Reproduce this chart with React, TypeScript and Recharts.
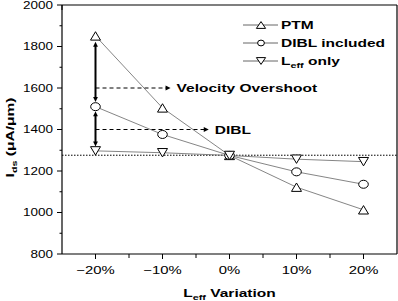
import React from 'react';
import { LineChart, Line, XAxis, YAxis, ReferenceLine, Legend } from 'recharts';

// ---------- data ----------
const xValues = [-20, -10, 0, 10, 20];
const ptm = [1851, 1504, 1275, 1122, 1013];
const diblIncluded = [1510, 1376, 1275, 1196, 1136];
const leffOnly = [1297, 1288, 1275, 1257, 1245];

const xMajorTicks = [-20, -10, 0, 10, 20];
const xAllTicks = [-20, -15, -10, -5, 0, 5, 10, 15, 20];
const yMajorTicks = [800, 1000, 1200, 1400, 1600, 1800, 2000];
const yAllTicks = [800, 900, 1000, 1100, 1200, 1300, 1400, 1500, 1600, 1700, 1800, 1900, 2000];
const xDomain = [-25, 25];
const yDomain = [800, 2000];

const referenceLevel = 1276;
const arrowX = -20;
const upperArrow = [1823, 1532];
const lowerArrow = [1488, 1318];
const velocityLevel = 1600;
const velocityArrowEnd = -8.8;
const diblLevel = 1400;
const diblArrowEnd = -3.1;

const seriesDefs = [
  { key: 'ptm', name: 'PTM', shape: 'up' },
  { key: 'dibl', name: 'DIBL included', shape: 'circle' },
  { key: 'leff', name: 'Leff only', shape: 'down' },
];

const chartData = xValues.map((x, i) => ({ x, ptm: ptm[i], dibl: diblIncluded[i], leff: leffOnly[i] }));

// ---------- helpers ----------
const S = 1.35;
const FONT = "'Liberation Sans', Arial, Helvetica, sans-serif";

function SText({ x, y, size, bold, anchor, rotate, children }: any) {
  const t = `translate(${x},${y})` + (rotate ? ` rotate(${rotate})` : '') + ` scale(${S},1)`;
  return (
    <text transform={t} x={0} y={0} fontSize={size} fontFamily={FONT} fontWeight={bold ? 700 : 400}
      textAnchor={anchor || 'start'} fill="#000">
      {children}
    </text>
  );
}

function Marker({ cx, cy, shape, small }: any) {
  if (cx == null || cy == null) return null;
  const w = small ? 4.6 : 5;
  const h = small ? 3.4 : 4.2;
  if (shape === 'circle') {
    return <ellipse cx={cx} cy={cy} rx={small ? 3.4 : 4.8} ry={small ? 2.9 : 4} fill="#fff" stroke="#000" strokeWidth={1} />;
  }
  const pts = shape === 'up'
    ? `${cx - w},${cy + h} ${cx + w},${cy + h} ${cx},${cy - h}`
    : `${cx - w},${cy - h} ${cx + w},${cy - h} ${cx},${cy + h}`;
  return <polygon points={pts} fill="#fff" stroke="#000" strokeWidth={1} />;
}

function fmtPct(v: number) {
  return v < 0 ? `\u2212${-v}%` : `${v}%`;
}

const BottomTick = (p: any) => {
  const { x, y, payload } = p;
  const major = xMajorTicks.includes(payload.value);
  return (
    <g>
      <line x1={x} x2={x} y1={y} y2={y + (major ? 5 : 4)} stroke="#000" strokeWidth={1} />
      {major && <SText x={x} y={y + 20.3} size={11} anchor="middle">{fmtPct(payload.value)}</SText>}
    </g>
  );
};

const TopTick = (p: any) => {
  const { x, y, payload } = p;
  const major = xMajorTicks.includes(payload.value);
  return <line x1={x} x2={x} y1={y} y2={y + (major ? 5 : 4)} stroke="#000" strokeWidth={1} />;
};

const LeftTick = (p: any) => {
  const { x, y, payload } = p;
  const major = yMajorTicks.includes(payload.value);
  return (
    <g>
      <line x1={x - (major ? 5 : 2.5)} x2={x} y1={y} y2={y} stroke="#000" strokeWidth={1} />
      {major && <SText x={x - 9} y={y + 3.7} size={10} anchor="end">{payload.value}</SText>}
    </g>
  );
};

const RightTick = (p: any) => {
  const { x, y } = p;
  return <line x1={x - 5} x2={x} y1={y} y2={y} stroke="#000" strokeWidth={1} />;
};

function makeArrow(cfg: { startHead?: boolean; endHead?: boolean; width: number; dash?: string; label?: string }) {
  return (props: any) => {
    const { x1, y1, x2, y2 } = props;
    if ([x1, y1, x2, y2].some((v) => v == null || isNaN(v))) return null;
    const len = Math.hypot(x2 - x1, y2 - y1) || 1;
    const ux = (x2 - x1) / len;
    const uy = (y2 - y1) / len;
    const HL = 5;
    const HW = 2.4;
    const sx = cfg.startHead ? x1 + ux * HL * 0.8 : x1;
    const sy = cfg.startHead ? y1 + uy * HL * 0.8 : y1;
    const ex = cfg.endHead ? x2 - ux * HL * 0.8 : x2;
    const ey = cfg.endHead ? y2 - uy * HL * 0.8 : y2;
    const head = (tx: number, ty: number, dx: number, dy: number) => {
      const bx = tx - dx * HL;
      const by = ty - dy * HL;
      return (
        <polygon points={`${tx},${ty} ${bx - dy * HW},${by + dx * HW} ${bx + dy * HW},${by - dx * HW}`}
          fill="#000" stroke="none" />
      );
    };
    return (
      <g>
        <line x1={sx} y1={sy} x2={ex} y2={ey} stroke="#000" strokeWidth={cfg.width} strokeDasharray={cfg.dash} />
        {cfg.startHead && head(x1, y1, -ux, -uy)}
        {cfg.endHead && head(x2, y2, ux, uy)}
        {cfg.label && <SText x={x2 + 6} y={y2 + 4.2} size={11.5} bold>{cfg.label}</SText>}
      </g>
    );
  };
}

const LegendContent = () => (
  <svg width={398} height={75} style={{ display: 'block', overflow: 'visible' }}>
    {seriesDefs.map((s, i) => {
      const cy = 25 + i * 18;
      return (
        <g key={s.key}>
          <line x1={243} x2={278} y1={cy} y2={cy} stroke="#555" strokeWidth={0.9} />
          <Marker cx={261} cy={cy} shape={s.shape} small />
          {s.key === 'leff' ? (
            <SText x={281} y={cy + 4.3} size={11.5} bold>
              L<tspan fontSize={8} dy={3}>eff</tspan><tspan dy={-3} fontSize={11.5}> only</tspan>
            </SText>
          ) : (
            <SText x={281} y={cy + 4.3} size={11.5} bold>{s.name}</SText>
          )}
        </g>
      );
    })}
  </svg>
);

const XLabel = (p: any) => {
  const vb = p.viewBox || {};
  const cx = vb.x + vb.width / 2;
  return (
    <SText x={cx} y={vb.y + 43} size={11.5} bold anchor="middle">
      L<tspan fontSize={8} dy={3}>eff</tspan><tspan dy={-3} fontSize={11.5}> Variation</tspan>
    </SText>
  );
};

const YLabel = (p: any) => {
  const vb = p.viewBox || {};
  return (
    <SText x={vb.x + 14} y={vb.y + vb.height / 2 + 8} size={11.5} bold anchor="middle" rotate={-90}>
      I<tspan fontSize={8} dy={3}>ds</tspan><tspan dy={-3} fontSize={11.5}> (μA/μm)</tspan>
    </SText>
  );
};

export default function App() {
  return (
    <div style={{ position: 'absolute', left: 0, top: 0, width: 398, height: 301, background: '#fff' }}>
      <LineChart width={398} height={301} data={chartData} margin={{ top: 5, right: 1, bottom: 0, left: 0 }}>
        <XAxis dataKey="x" type="number" domain={xDomain} ticks={xAllTicks} interval={0}
          height={47} tickSize={0} tickMargin={0} tickLine={false} tick={BottomTick}
          axisLine={{ stroke: '#000', strokeWidth: 1.2 }} label={{ content: XLabel }} />
        <XAxis xAxisId="top" orientation="top" mirror type="number" domain={xDomain} ticks={xAllTicks}
          interval={0} height={10} tickSize={0} tickMargin={0} tickLine={false} tick={TopTick}
          axisLine={{ stroke: '#000', strokeWidth: 1.2 }} />
        <YAxis type="number" domain={yDomain} ticks={yAllTicks} interval={0} width={62}
          tickSize={0} tickMargin={0} tickLine={false} tick={LeftTick}
          axisLine={{ stroke: '#000', strokeWidth: 1.2 }} label={{ content: YLabel }} />
        <YAxis yAxisId="right" orientation="right" mirror type="number" domain={yDomain} ticks={yAllTicks}
          interval={0} width={10} tickSize={0} tickMargin={0} tickLine={false} tick={RightTick}
          axisLine={{ stroke: '#000', strokeWidth: 1.2 }} />
        <Legend layout="vertical" align="center" verticalAlign="middle" content={LegendContent}
          wrapperStyle={{ position: 'absolute', left: 0, top: 0, width: 398, height: 75, pointerEvents: 'none' }} />
        <ReferenceLine y={referenceLevel} stroke="#000" strokeWidth={1} strokeDasharray="1.5 1.5" />
        {seriesDefs.map((s) => (
          <Line key={s.key} dataKey={s.key} name={s.name} stroke="#777" strokeWidth={0.9}
            isAnimationActive={false} activeDot={false}
            dot={(p: any) => <Marker key={`${s.key}-${p.index}`} cx={p.cx} cy={p.cy} shape={s.shape} />} />
        ))}
        <ReferenceLine segment={[{ x: arrowX, y: upperArrow[0] }, { x: arrowX, y: upperArrow[1] }]}
          shape={makeArrow({ startHead: true, endHead: true, width: 2 })} />
        <ReferenceLine segment={[{ x: arrowX, y: lowerArrow[0] }, { x: arrowX, y: lowerArrow[1] }]}
          shape={makeArrow({ startHead: true, endHead: true, width: 2 })} />
        <ReferenceLine segment={[{ x: arrowX, y: velocityLevel }, { x: velocityArrowEnd, y: velocityLevel }]}
          shape={makeArrow({ endHead: true, width: 1, dash: '4 3', label: 'Velocity Overshoot' })} />
        <ReferenceLine segment={[{ x: arrowX, y: diblLevel }, { x: diblArrowEnd, y: diblLevel }]}
          shape={makeArrow({ endHead: true, width: 1, dash: '4 3', label: 'DIBL' })} />
      </LineChart>
    </div>
  );
}
